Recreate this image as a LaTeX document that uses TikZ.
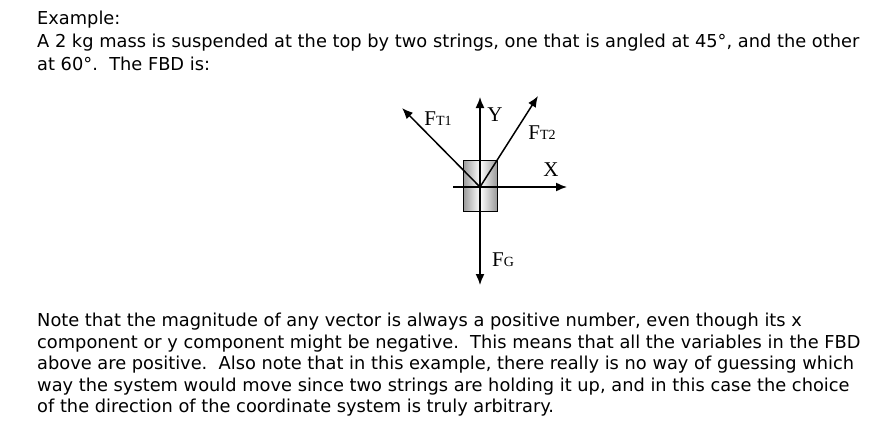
\documentclass[tikz,border=0pt]{standalone}
\usepackage{fontspec}
\setmainfont{DejaVu Sans}
\newfontfamily\tms{Liberation Serif}
\usetikzlibrary{arrows.meta}
\begin{document}
\begin{tikzpicture}[x=1pt,y=-1pt,
 txt/.style={anchor=base west,inner sep=0,font=\fontsize{17.8}{20}\selectfont},
 lbl/.style={inner sep=0,font=\tms\fontsize{21}{24}\selectfont},
 vec/.style={line width=1.5pt,-{Latex[length=11pt,width=9pt]}}]
\useasboundingbox (0,0) rectangle (894,439);
\node[txt] (t1) at (37,24) {Example:};
\node[txt] (t2) at (37,47) {A 2 kg mass is suspended at the top by two strings, one that is angled at 45°, and the other};
\node[txt] (t3) at (37,70) {at 60°.\ \ The FBD is:};
\node[txt] (b1) at (37,326) {Note that the magnitude of any vector is always a positive number, even though its x};
\node[txt] (b2) at (37,348) {component or y component might be negative.\ \ This means that all the variables in the FBD};
\node[txt] (b3) at (37,369) {above are positive.\ \ Also note that in this example, there really is no way of guessing which};
\node[txt] (b4) at (37,391) {way the system would move since two strings are holding it up, and in this case the choice};
\node[txt] (b5) at (37,412) {of the direction of the coordinate system is truly arbitrary.};
\shade[left color=gray!80,right color=gray!80,middle color=white,draw=black,line width=0.8pt] (463,160) rectangle (497,211);
\coordinate (o) at (480,187);
\coordinate (xs) at (453,187);
\coordinate (xe) at (567,187);
\coordinate (ye) at (480,97);
\coordinate (t1e) at (402,108);
\coordinate (t2e) at (538,96);
\coordinate (ge) at (480,285);
\draw[vec] (xs) -- (xe);
\draw[vec] (o) -- (ye);
\draw[vec] (o) -- (t1e);
\draw[vec] (o) -- (t2e);
\draw[vec] (o) -- (ge);
\node[lbl] (lt1) at (438,119) {F\fontsize{14}{16}\selectfont T1};
\node[lbl] (ly) at (495,115) {Y};
\node[lbl] (lt2) at (542,133) {F\fontsize{14}{16}\selectfont T2};
\node[lbl] (lx) at (551,170) {X};
\node[lbl] (lg) at (503,260) {F\fontsize{14}{16}\selectfont G};
\end{tikzpicture}
\end{document}
